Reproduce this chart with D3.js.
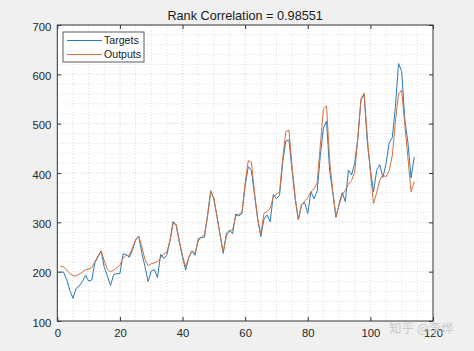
<!DOCTYPE html>
<html>
<head>
<meta charset="utf-8">
<script src="https://cdn.jsdelivr.net/npm/d3@7"></script>
<style>
  html, body { margin: 0; padding: 0; background: #f0f0f0; }
  svg { display: block; }
  text { font-family: "Liberation Sans", Arial, Helvetica, sans-serif; }
</style>
</head>
<body>
<script>
// ---- data ----
const titleText = "Rank Correlation = 0.98551";
const seriesNames = ["Targets", "Outputs"];
const xTicks = [0, 20, 40, 60, 80, 100, 120];
const yTicks = [100, 200, 300, 400, 500, 600, 700];
const targets = [
  199, 199, 184, 162, 146, 166, 171, 180, 193, 181, 183, 218, 230, 242, 209, 191, 172, 194,
  196, 196, 236, 235, 229, 243, 264, 272, 237, 211, 180, 201,
  204, 188, 235, 227, 234, 264, 302, 293, 259, 229, 203, 229,
  242, 233, 267, 269, 270, 315, 364, 347, 312, 274, 237, 278,
  284, 277, 317, 313, 318, 374, 413, 405, 355, 306, 271, 306,
  315, 301, 356, 348, 355, 422, 465, 467, 404, 347, 305, 336,
  340, 318, 362, 348, 363, 435, 491, 505, 404, 359, 310, 337,
  360, 342, 406, 396, 420, 472, 548, 559, 463, 407, 362, 405,
  417, 391, 419, 461, 472, 535, 622, 606, 508, 461, 390, 432
];
const outputs = [
  211, 210, 203, 196, 192, 191, 195, 199, 204, 205, 208, 220, 232, 242, 222, 205, 200, 203,
  208, 213, 228, 233, 233, 248, 265, 272, 250, 225, 212, 216,
  218, 220, 228, 236, 240, 262, 298, 296, 262, 232, 210, 228,
  242, 238, 262, 270, 275, 312, 362, 350, 312, 275, 240, 272,
  282, 285, 313, 316, 322, 380, 425, 422, 360, 308, 275, 318,
  322, 328, 352, 357, 362, 430, 484, 487, 412, 350, 305, 335,
  343, 350, 362, 368, 380, 455, 530, 536, 425, 362, 312, 335,
  355, 365, 377, 385, 402, 470, 550, 562, 475, 402, 338, 360,
  385, 396, 392, 405, 435, 505, 560, 568, 498, 430, 362, 383
];
const colors = ["#2a7ab8", "#d2703f"];

// ---- layout ----
const W = 474, H = 351;
const L = 57.3, R = 433, T = 25, B = 321;

const svg = d3.select("body").append("svg").attr("width", W).attr("height", H);
svg.append("rect").attr("width", W).attr("height", H).attr("fill", "#f0f0f0");

const x = d3.scaleLinear().domain([0, 120]).range([L, R]);
const y = d3.scaleLinear().domain([100, 700]).range([B, T]);

svg.append("rect").attr("x", L).attr("y", T).attr("width", R - L).attr("height", B - T).attr("fill", "#ffffff");

// grid (minor + major, dotted)
const gx = d3.range(0, 121, 5), gy = d3.range(100, 701, 20);
const grid = svg.append("g");
grid.selectAll("line.vx").data(gx.filter(v => v > 0 && v < 120)).join("line")
  .attr("x1", d => x(d)).attr("x2", d => x(d)).attr("y1", T).attr("y2", B)
  .attr("stroke", d => d % 20 === 0 ? "#c4c4c4" : "#d6d6d6").attr("stroke-width", 0.8)
  .attr("stroke-dasharray", "1,2");
grid.selectAll("line.hy").data(gy.filter(v => v > 100 && v < 700)).join("line")
  .attr("y1", d => y(d)).attr("y2", d => y(d)).attr("x1", L).attr("x2", R)
  .attr("stroke", d => d % 100 === 0 ? "#c4c4c4" : "#d6d6d6").attr("stroke-width", 0.8)
  .attr("stroke-dasharray", "1,2");

// lines
const line = d3.line().x((d, i) => x(i + 1)).y(d => y(d));
[targets, outputs].forEach((s, k) => {
  svg.append("path").datum(s).attr("d", line)
    .attr("fill", "none").attr("stroke", colors[k]).attr("stroke-width", 1)
    .attr("stroke-linejoin", "round");
});

// axes
const axColor = "#333333";
function styleAxis(g) {
  g.select(".domain").remove();
  g.selectAll(".tick line").attr("stroke", axColor);
  g.selectAll(".tick text").attr("fill", "#262626").style("font-size", "11.3px")
    .style("font-family", "'Liberation Sans', Arial, sans-serif");
}
svg.append("g").attr("transform", `translate(0,${B})`)
  .call(d3.axisBottom(x).tickValues(xTicks).tickSizeInner(-4).tickSizeOuter(0).tickPadding(8))
  .call(styleAxis);
svg.append("g").attr("transform", `translate(0,${T})`)
  .call(d3.axisTop(x).tickValues(xTicks).tickSizeInner(-4).tickSizeOuter(0).tickFormat(""))
  .call(styleAxis);
svg.append("g").attr("transform", `translate(${L},0)`)
  .call(d3.axisLeft(y).tickValues(yTicks).tickSizeInner(-4).tickSizeOuter(0).tickPadding(6))
  .call(styleAxis)
  .selectAll(".tick text").attr("dy", "0.45em");
svg.append("g").attr("transform", `translate(${R},0)`)
  .call(d3.axisRight(y).tickValues(yTicks).tickSizeInner(-4).tickSizeOuter(0).tickFormat(""))
  .call(styleAxis);

svg.append("rect").attr("x", L).attr("y", T).attr("width", R - L).attr("height", B - T)
  .attr("fill", "none").attr("stroke", axColor).attr("stroke-width", 1);

// title
svg.append("text").attr("x", (L + R) / 2).attr("y", 19.5).attr("text-anchor", "middle")
  .style("font-size", "12.7px").attr("fill", "#1a1a1a").text(titleText);

// legend
const lg = svg.append("g");
lg.append("rect").attr("x", 63).attr("y", 32).attr("width", 81).attr("height", 30)
  .attr("fill", "#ffffff").attr("stroke", "#333333").attr("stroke-width", 0.8);
seriesNames.forEach((n, k) => {
  const yy = 40.5 + k * 14;
  lg.append("line").attr("x1", 67).attr("x2", 102).attr("y1", yy).attr("y2", yy)
    .attr("stroke", colors[k]).attr("stroke-width", 1);
  lg.append("text").attr("x", 104).attr("y", yy + 3.8).style("font-size", "10.6px")
    .attr("fill", "#1a1a1a").text(n);
});

// watermark
svg.append("text").attr("x", 389).attr("y", 333).style("font-size", "12.5px")
  .style("font-family", "'Noto Sans CJK SC', sans-serif")
  .attr("fill", "#c8c8c8").attr("opacity", 0.9).text("知乎 @李烨");
</script>
</body>
</html>
